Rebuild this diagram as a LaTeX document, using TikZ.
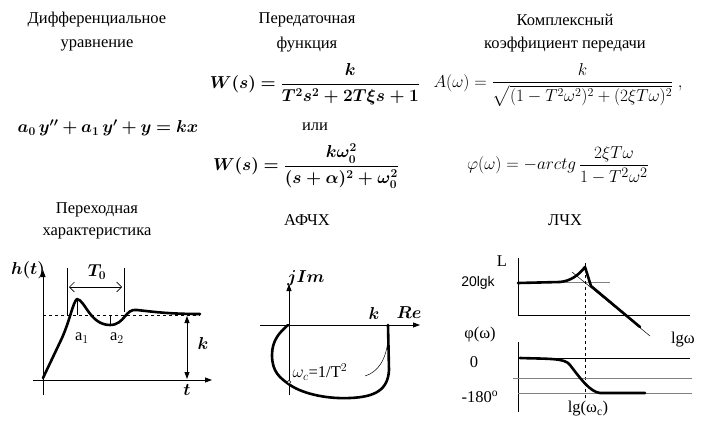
\documentclass[tikz,border=0pt]{standalone}
\usepackage{amsmath,bm}
\usepackage{fontspec}
\setmainfont{Liberation Serif}
\newfontfamily\sansf{Liberation Sans}
\usetikzlibrary{arrows.meta}
\begin{document}
\begin{tikzpicture}[x=1pt,y=-1pt,
  every node/.style={font=\fontsize{16.5}{18}\selectfont},
  fm/.style={font=\fontsize{17.5}{19}\selectfont,inner sep=1pt},
  ax/.style={line width=0.8pt},
  axa/.style={line width=0.8pt,-{Triangle[length=7pt,width=5pt]}},
  thick3/.style={line width=2.6pt,line cap=round,line join=round},
  grey/.style={line width=0.8pt,gray}]
\useasboundingbox (0,0) rectangle (726,425);
% titles
\node (t1) at (97,20) {Дифференциальное};
\node (t2) at (97,45) {уравнение};
\node (t3) at (307,20) {Передаточная};
\node (t4) at (307,45) {функция};
\node (t5) at (565,20) {Комплексный};
\node (t6) at (565,45) {коэффициент передачи};
\node (t7) at (97,210) {Переходная};
\node (t8) at (97,233) {характеристика};
\node (t9) at (307,220) {АФЧХ};
\node (t10) at (565,220) {ЛЧХ};
% formulas
\node[fm] (f1) at (108,128) {$\bm{a_0\,y'' + a_1\,y' + y = kx}$};
\node[fm] (f2) at (315,84) {$\bm{W(s)=\dfrac{k}{T^2s^2+2T\xi s+1}}$};
\node (f3) at (315,127) {или};
\node[fm] (f4) at (306,166) {$\bm{W(s)=\dfrac{k\omega_0^2}{(s+\alpha)^2+\omega_0^2}}$};
\node[fm] (f5) at (558,85) {$A(\omega)=\dfrac{k}{\sqrt{(1-T^2\omega^2)^2+(2\xi T\omega)^2}}\ ,$};
\node[font=\fontsize{19}{21}\selectfont,inner sep=1pt] (f6) at (558,165) {$\varphi(\omega)=-arctg\,\dfrac{2\xi T\omega}{1-T^2\omega^2}$};
% step response
\draw[axa] (43,395) -- (43,270);
\draw[axa] (33,380) -- (212,380);
\node (ht) at (28,270) {$\bm{h(t)}$};
\node (tt) at (187,390) {$\bm{t}$};
\draw[dashed,line width=0.6pt] (43,315) -- (200,315);
\draw[line width=0.6pt] (67,268) -- (67,315) (124,268) -- (124,312);
\draw[line width=0.6pt,{Straight Barb[length=5pt]}-{Straight Barb[length=5pt]}] (69,287) -- (122,287);
\node (T0) at (97,272) {$\bm{T_0}$};
\draw[line width=0.6pt] (77,300) -- (77,315) (110,315) -- (110,325);
\draw[thick3] (43,378) -- (62,338) .. controls (70,320) and (73,302) .. (77,299)
  .. controls (85,300) and (90,325) .. (110,325) .. controls (125,325) and (125,308) .. (137,310)
  .. controls (155,312) and (170,314) .. (200,314);
\node (a1) at (82,338) {a$_1$};
\node (a2) at (117,338) {a$_2$};
\draw[line width=0.8pt,{Triangle[length=7pt,width=5pt]}-{Triangle[length=7pt,width=5pt]}] (187,316) -- (187,379);
\node (kk) at (203,343) {$\bm{k}$};
% AFCH
\draw[axa] (260,325) -- (420,325);
\draw[axa] (289,395) -- (289,284);
\node (jim) at (306,278) {$\bm{jIm}$};
\node (kr) at (374,313) {$\bm{k}$};
\node (re) at (409,313) {$\bm{Re}$};
\draw[thick3] (288,325) .. controls (280,332) and (272,340) .. (272,355)
  .. controls (272,372) and (280,378) .. (290,385) .. controls (305,395) and (330,399) .. (350,398)
  .. controls (375,397) and (388,390) .. (389,370) -- (388,325);
\draw[line width=0.5pt] (365,376) .. controls (378,372) and (386,360) .. (388,340);
\draw[fill=white,line width=0.5pt] (289,382) circle (1.8);
\node[anchor=west] (wc) at (289,372) {$\omega_c$=1/T$^2$};
% LCH top
\draw[ax] (518,258) -- (518,315) -- (690,315);
\node (L) at (502,261) {L};
\node[font=\sansf\fontsize{14}{16}\selectfont] (lgk) at (478,283) {20lgk};
\draw[grey] (518,282) -- (610,282);
\draw[line width=0.5pt] (572,272) -- (650,336);
\draw[thick3] (518,283) -- (560,282) .. controls (570,281) and (578,276) .. (585,267) -- (591,286) -- (640,327);
\node (lgw) at (683,340) {lgω};
\draw[dashed,line width=0.8pt] (585,263) -- (585,398);
% LCH bottom
\node (phi) at (480,335) {φ(ω)};
\draw[ax] (518,342) -- (518,412);
\draw[ax] (518,358) -- (690,358);
\draw[grey] (513,378) -- (692,378);
\draw[grey] (518,393) -- (692,393);
\node (z0) at (474,362) {0};
\node (m180) at (480,397) {-180$^{\mathrm o}$};
\draw[thick3] (520,358) .. controls (550,359) and (565,358) .. (570,365)
  .. controls (580,378) and (590,392) .. (600,393) -- (645,393);
\node (lgwc) at (588,409) {lg(ω$_{\mathrm c}$)};
\end{tikzpicture}
\end{document}
